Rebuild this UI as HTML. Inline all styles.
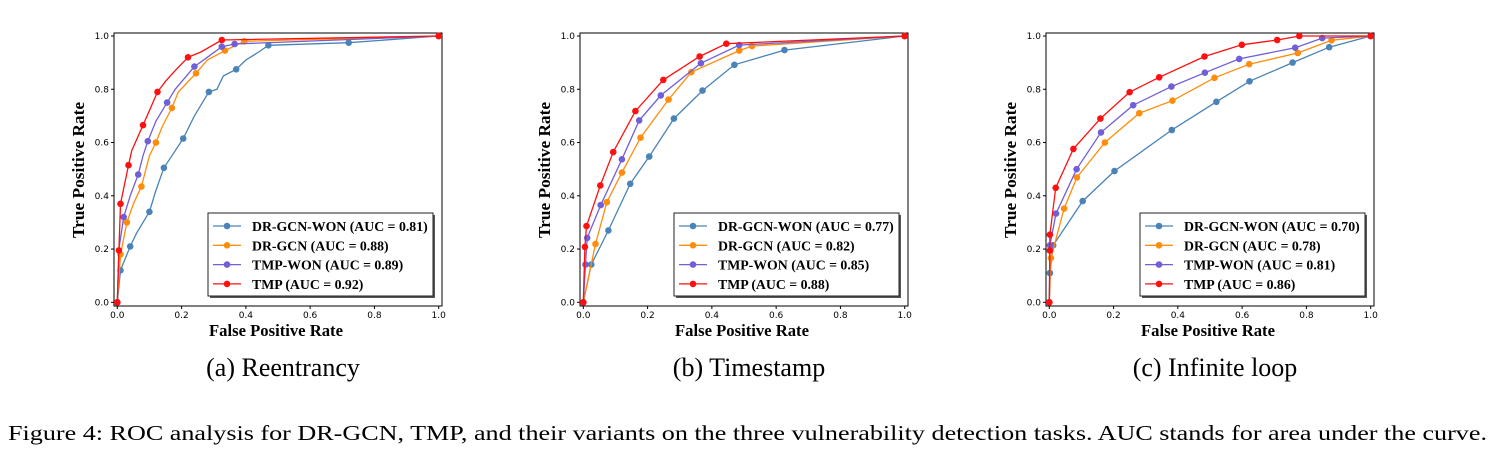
<!DOCTYPE html>
<html><head><meta charset="utf-8"><style>
html,body{margin:0;padding:0;background:#fff;width:1500px;height:460px;overflow:hidden}
svg{position:absolute;left:0;top:0}
</style></head><body>
<svg id="s" width="1500" height="460" xmlns="http://www.w3.org/2000/svg"></svg>
<script>
const C={b:'#4a83b8',o:'#ff8c0a',p:'#7060d8',r:'#ff1010'};
const P=[
{off:0,cap:'(a)  Reentrancy',auc:['0.81','0.88','0.89','0.92'],s:{
b:[[0,0],[0.01,0.12],[0.04,0.21],[0.06,0.26],[0.1,0.34],[0.12,0.42],[0.145,0.505],[0.17,0.55],[0.205,0.615],[0.24,0.7],[0.285,0.79],[0.31,0.8],[0.33,0.85],[0.37,0.875],[0.4,0.91],[0.44,0.94],[0.47,0.965],[0.72,0.975],[1,1]],
o:[[0,0],[0.01,0.18],[0.03,0.3],[0.05,0.37],[0.075,0.435],[0.1,0.55],[0.12,0.6],[0.14,0.66],[0.17,0.73],[0.19,0.79],[0.245,0.86],[0.28,0.91],[0.335,0.945],[0.395,0.98],[1,1]],
p:[[0,0],[0.005,0.2],[0.02,0.32],[0.04,0.4],[0.065,0.48],[0.08,0.55],[0.095,0.605],[0.12,0.68],[0.155,0.75],[0.18,0.8],[0.24,0.885],[0.28,0.92],[0.325,0.96],[0.365,0.97],[1,1]],
r:[[0,0],[0.005,0.195],[0.01,0.37],[0.035,0.515],[0.045,0.57],[0.08,0.665],[0.1,0.72],[0.125,0.79],[0.15,0.83],[0.18,0.87],[0.22,0.92],[0.26,0.94],[0.325,0.985],[1,1]]},
m:{b:[0,1,2,4,6,8,10,13,16,17,18],o:[0,1,2,4,6,8,10,12,13,14],p:[0,2,4,6,8,10,12,13,14],r:[0,1,2,3,5,7,10,12,13]}},
{off:466,cap:'(b)  Timestamp',auc:['0.77','0.82','0.85','0.88'],s:{
b:[[0,0],[0.025,0.142],[0.078,0.27],[0.146,0.445],[0.205,0.547],[0.282,0.69],[0.371,0.795],[0.47,0.892],[0.626,0.947],[1,1]],
o:[[0,0],[0.038,0.219],[0.073,0.376],[0.12,0.487],[0.178,0.618],[0.265,0.761],[0.336,0.864],[0.485,0.945],[0.525,0.962],[1,1]],
p:[[0,0],[0.007,0.142],[0.012,0.242],[0.054,0.365],[0.12,0.537],[0.174,0.683],[0.241,0.777],[0.366,0.898],[0.485,0.966],[1,1]],
r:[[0,0],[0.005,0.208],[0.01,0.286],[0.053,0.439],[0.093,0.564],[0.162,0.718],[0.249,0.835],[0.362,0.923],[0.445,0.971],[1,1]]}},
{off:932,cap:'(c)  Infinite loop',auc:['0.70','0.78','0.81','0.86'],s:{
b:[[0,0],[0.002,0.11],[0.012,0.214],[0.104,0.38],[0.203,0.493],[0.381,0.647],[0.52,0.753],[0.623,0.83],[0.757,0.9],[0.871,0.958],[1,1]],
o:[[0,0],[0.005,0.166],[0.046,0.352],[0.086,0.469],[0.173,0.6],[0.28,0.71],[0.383,0.757],[0.514,0.843],[0.622,0.894],[0.773,0.936],[0.878,0.984],[1,1]],
p:[[0,0],[0.002,0.214],[0.021,0.333],[0.085,0.5],[0.161,0.638],[0.261,0.74],[0.38,0.81],[0.484,0.862],[0.591,0.914],[0.765,0.956],[0.849,0.992],[1,1]],
r:[[0,0],[0.002,0.194],[0.002,0.254],[0.02,0.43],[0.075,0.576],[0.159,0.69],[0.25,0.789],[0.342,0.845],[0.483,0.923],[0.599,0.967],[0.709,0.985],[0.778,1],[1,1]]}}
];
let h='';
const SER='font-family="Liberation Serif,serif"';
const SAN='font-family="DejaVu Sans,Liberation Sans,sans-serif"';
P.forEach(pn=>{
 const o=pn.off, X=v=>117.3+o+v*321.4, Y=v=>302.3-v*266.3;
 h+=`<rect x="${114+o}" y="33" width="${328}" height="273" fill="none" stroke="#000" stroke-width="1"/>`;
 for(let i=0;i<=5;i++){const v=i/5,t=v.toFixed(1);
  h+=`<line x1="${X(v)}" y1="306" x2="${X(v)}" y2="309" stroke="#000"/>`;
  h+=`<text x="${X(v)}" y="318" font-size="9" text-anchor="middle" ${SAN}>${t}</text>`;
  h+=`<line x1="${114+o}" y1="${Y(v)}" x2="${111+o}" y2="${Y(v)}" stroke="#000"/>`;
  h+=`<text x="${109+o}" y="${Y(v)+3}" font-size="9" text-anchor="end" ${SAN}>${t}</text>`;}
 h+=`<text x="${209+o}" y="336" font-size="16.5" font-weight="bold" textLength="134" lengthAdjust="spacingAndGlyphs" ${SER}>False Positive Rate</text>`;
 h+=`<text transform="translate(${84+o},238) rotate(-90)" font-size="16.5" font-weight="bold" textLength="136" lengthAdjust="spacingAndGlyphs" ${SER}>True Positive Rate</text>`;
 ['b','o','p','r'].forEach(k=>{
  const d=pn.s[k];
  h+=`<polyline fill="none" stroke="${C[k]}" stroke-width="1.3" points="${d.map(q=>X(q[0]).toFixed(1)+','+Y(q[1]).toFixed(1)).join(' ')}"/>`;
  const idx=pn.m?pn.m[k]:d.map((_,i)=>i);
  idx.forEach(i=>{h+=`<circle cx="${X(d[i][0]).toFixed(1)}" cy="${Y(d[i][1]).toFixed(1)}" r="3.3" fill="${C[k]}"/>`;});
 });
 h+=`<rect x="${210+o}" y="215" width="225" height="83" fill="#555"/>`;
 h+=`<rect x="${208+o}" y="213" width="225" height="83" fill="#fff" stroke="#222" stroke-width="1"/>`;
 const names=['DR-GCN-WON','DR-GCN','TMP-WON','TMP'];
 ['b','o','p','r'].forEach((k,i)=>{const y=226+i*19.3;
  h+=`<line x1="${213+o}" y1="${y}" x2="${241+o}" y2="${y}" stroke="${C[k]}" stroke-width="1.3"/><circle cx="${227+o}" cy="${y}" r="3.3" fill="${C[k]}"/>`;
  h+=`<text x="${252+o}" y="${y+5}" font-size="13.8" font-weight="bold" ${SER}>${names[i]} (AUC = ${pn.auc[i]})</text>`;});
 h+=`<text x="${283+o}" y="376" font-size="26" text-anchor="middle" ${SER}>${pn.cap}</text>`;
});
h+=`<text x="8" y="440" font-size="21" textLength="1479" lengthAdjust="spacingAndGlyphs" ${SER}>Figure 4: ROC analysis for DR-GCN, TMP, and their variants on the three vulnerability detection tasks. AUC stands for area under the curve.</text>`;
document.getElementById('s').innerHTML=h;
</script>
</body></html>
